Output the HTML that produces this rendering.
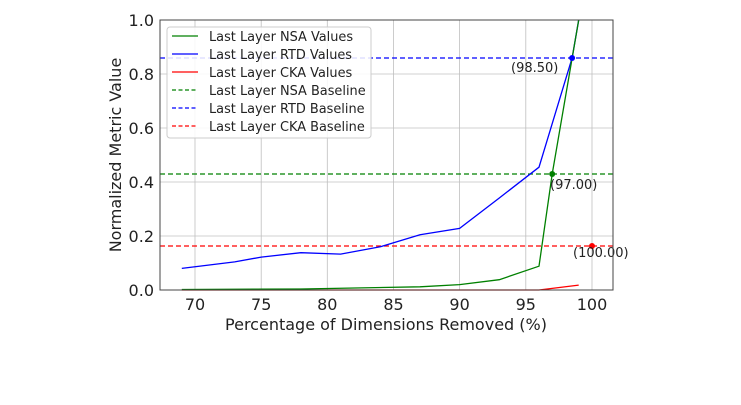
<!DOCTYPE html><html><head><style>body{margin:0;background:#fff}</style></head><body>
<svg width="741" height="400" xmlns="http://www.w3.org/2000/svg" font-family="'DejaVu Sans','Liberation Sans',sans-serif">
<g stroke="#b0b0b0" stroke-width="0.8" opacity="0.8">
<line x1="195" y1="20" x2="195" y2="290"/><line x1="261.2" y1="20" x2="261.2" y2="290"/><line x1="327.3" y1="20" x2="327.3" y2="290"/><line x1="393.5" y1="20" x2="393.5" y2="290"/><line x1="459.6" y1="20" x2="459.6" y2="290"/><line x1="525.8" y1="20" x2="525.8" y2="290"/><line x1="592" y1="20" x2="592" y2="290"/>
<line x1="160" y1="236" x2="613" y2="236"/><line x1="160" y1="182" x2="613" y2="182"/><line x1="160" y1="128" x2="613" y2="128"/><line x1="160" y1="74" x2="613" y2="74"/>
</g>
<line x1="160" y1="58" x2="613" y2="58" stroke="blue" stroke-dasharray="5,3" stroke-width="1.2"/>
<line x1="160" y1="174" x2="613" y2="174" stroke="green" stroke-dasharray="5,3" stroke-width="1.2"/>
<line x1="160" y1="246" x2="613" y2="246" stroke="red" stroke-dasharray="5,3" stroke-width="1.2"/>
<polyline fill="none" stroke="blue" stroke-width="1.3" points="181.8,268.4 234.7,261.9 261.2,257.1 300.9,252.7 340.6,254.1 380.3,246.8 420,234.7 459.6,228.4 499.3,198 539,167.2 572.1,58 578.7,20"/>
<polyline fill="none" stroke="red" stroke-width="1.3" points="181.8,290 539,290 578.7,285.1"/>
<polyline fill="none" stroke="green" stroke-width="1.3" points="181.8,289.5 300.9,289 420,286.8 459.6,284.6 499.3,279.7 539,266.2 552.2,174 578.7,20"/>
<circle cx="572.1" cy="58" r="3" fill="blue"/><circle cx="552.2" cy="174" r="3" fill="green"/><circle cx="592" cy="246" r="3" fill="red"/>
<g font-size="13" fill="#222"><text x="511" y="72">(98.50)</text><text x="550" y="189">(97.00)</text><text x="573" y="257">(100.00)</text></g>
<rect x="160" y="20" width="453" height="270" fill="none" stroke="#444" stroke-width="1"/>
<g font-size="16" fill="#222" text-anchor="end"><text x="154" y="296">0.0</text><text x="154" y="242">0.2</text><text x="154" y="188">0.4</text><text x="154" y="134">0.6</text><text x="154" y="80">0.8</text><text x="154" y="26">1.0</text></g>
<g font-size="16" fill="#222" text-anchor="middle"><text x="195" y="310">70</text><text x="261.2" y="310">75</text><text x="327.3" y="310">80</text><text x="393.5" y="310">85</text><text x="459.6" y="310">90</text><text x="525.8" y="310">95</text><text x="592" y="310">100</text>
<text x="386" y="330">Percentage of Dimensions Removed (%)</text>
<text transform="translate(121,155) rotate(-90)">Normalized Metric Value</text></g>
<rect x="167" y="27" width="204" height="111" rx="3" fill="#fff" fill-opacity="0.85" stroke="#ccc"/>
<g stroke-width="1.3"><line x1="172" y1="36" x2="198" y2="36" stroke="green"/><line x1="172" y1="54" x2="198" y2="54" stroke="blue"/><line x1="172" y1="72" x2="198" y2="72" stroke="red"/>
<line x1="172" y1="90" x2="198" y2="90" stroke="green" stroke-dasharray="4,2.5"/><line x1="172" y1="108" x2="198" y2="108" stroke="blue" stroke-dasharray="4,2.5"/><line x1="172" y1="126" x2="198" y2="126" stroke="red" stroke-dasharray="4,2.5"/></g>
<g font-size="12.9" fill="#222"><text x="209" y="41">Last Layer NSA Values</text><text x="209" y="59">Last Layer RTD Values</text><text x="209" y="77">Last Layer CKA Values</text><text x="209" y="95">Last Layer NSA Baseline</text><text x="209" y="113">Last Layer RTD Baseline</text><text x="209" y="131">Last Layer CKA Baseline</text></g>
</svg></body></html>
